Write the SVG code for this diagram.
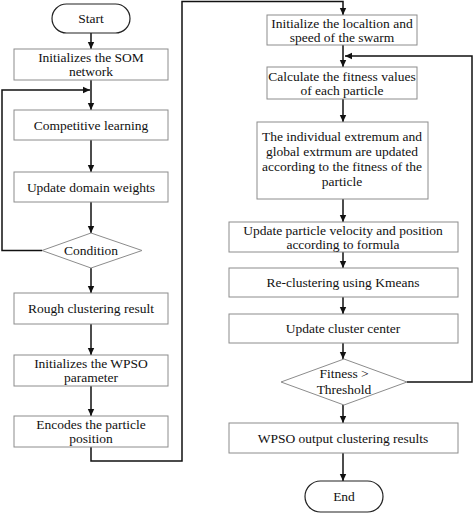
<svg xmlns="http://www.w3.org/2000/svg" width="474" height="514" viewBox="0 0 474 514">
<style>
.box{fill:#fff;stroke:#8c8c8c;stroke-width:1}
.term{fill:#fff;stroke:#222;stroke-width:1.2}
.t{font-family:'Liberation Serif','Times New Roman',Times,'DejaVu Serif',serif;font-size:13.5px;fill:#111;text-anchor:middle}
.c{fill:none;stroke:#111;stroke-width:1.5}
</style>
<defs>
<marker id="ah" markerWidth="8" markerHeight="8" refX="7" refY="4" orient="auto" markerUnits="userSpaceOnUse">
<path d="M0,0.8 L7,4 L0,7.2 Z" fill="#111"/>
</marker>
</defs>
<rect width="474" height="514" fill="#fff"/>
<g id="connectors">
<path class="c" d="M91,33 V49" marker-end="url(#ah)"/>
<path class="c" d="M91,80 V110" marker-end="url(#ah)"/>
<path class="c" d="M42,250.5 H2 V90 H90" marker-end="url(#ah)"/>
<path class="c" d="M91,140 V172" marker-end="url(#ah)"/>
<path class="c" d="M91,202 V233" marker-end="url(#ah)"/>
<path class="c" d="M91,268 V293" marker-end="url(#ah)"/>
<path class="c" d="M91,324 V355" marker-end="url(#ah)"/>
<path class="c" d="M91,386 V416" marker-end="url(#ah)"/>
<path class="c" d="M91,447 V461 H182 V1.5 H343 V15" marker-end="url(#ah)"/>
<path class="c" d="M343,45 V67" marker-end="url(#ah)"/>
<path class="c" d="M407,382 H472 V56 H345" marker-end="url(#ah)"/>
<path class="c" d="M343,99 V122" marker-end="url(#ah)"/>
<path class="c" d="M343,199 V222" marker-end="url(#ah)"/>
<path class="c" d="M343,252 V268" marker-end="url(#ah)"/>
<path class="c" d="M343,297 V314" marker-end="url(#ah)"/>
<path class="c" d="M343,343 V359" marker-end="url(#ah)"/>
<path class="c" d="M343,405 V423" marker-end="url(#ah)"/>
<path class="c" d="M343,453 V481" marker-end="url(#ah)"/>
</g>
<g id="start">
<rect class="term" x="52" y="4" width="78" height="29" rx="14.5"/>
<text class="t" x="91" y="23">Start</text>
</g>
<g id="init-som">
<rect class="box" x="14" y="49" width="154" height="31"/>
<text class="t" x="91" y="62">Initializes the SOM</text>
<text class="t" x="91" y="76">network</text>
</g>
<g id="competitive">
<rect class="box" x="14" y="110" width="154" height="30"/>
<text class="t" x="91" y="130">Competitive learning</text>
</g>
<g id="update-weights">
<rect class="box" x="14" y="172" width="154" height="30"/>
<text class="t" x="91" y="192">Update domain weights</text>
</g>
<g id="condition">
<polygon class="box" points="91,233 142,250.5 91,268 42,250.5"/>
<text class="t" x="91" y="255">Condition</text>
</g>
<g id="rough">
<rect class="box" x="14" y="293" width="154" height="31"/>
<text class="t" x="91" y="313">Rough clustering result</text>
</g>
<g id="init-wpso">
<rect class="box" x="14" y="355" width="154" height="31"/>
<text class="t" x="91" y="368">Initializes the WPSO</text>
<text class="t" x="91" y="382">parameter</text>
</g>
<g id="encode">
<rect class="box" x="14" y="416" width="154" height="31"/>
<text class="t" x="91" y="429">Encodes the particle</text>
<text class="t" x="91" y="443">position</text>
</g>
<g id="init-swarm">
<rect class="box" x="267" y="15" width="150" height="30"/>
<text class="t" x="342" y="28">Initialize the localtion and</text>
<text class="t" x="342" y="42">speed of the swarm</text>
</g>
<g id="calc-fitness">
<rect class="box" x="267" y="67" width="150" height="32"/>
<text class="t" x="342" y="81">Calculate the fitness values</text>
<text class="t" x="342" y="95">of each particle</text>
</g>
<g id="extremum">
<rect class="box" x="257" y="122" width="171" height="77"/>
<text class="t" x="342" y="141">The individual extremum and</text>
<text class="t" x="342" y="156">global extrmum are updated</text>
<text class="t" x="342" y="171">according to the fitness of the</text>
<text class="t" x="342" y="186">particle</text>
</g>
<g id="update-velocity">
<rect class="box" x="229" y="222" width="229" height="30"/>
<text class="t" x="343" y="235">Update particle velocity and position</text>
<text class="t" x="343" y="249">according to formula</text>
</g>
<g id="recluster">
<rect class="box" x="229" y="268" width="229" height="29"/>
<text class="t" x="343" y="287">Re-clustering using Kmeans</text>
</g>
<g id="update-center">
<rect class="box" x="229" y="314" width="229" height="29"/>
<text class="t" x="343" y="333">Update cluster center</text>
</g>
<g id="fitness-threshold">
<polygon class="box" points="344,359 407,382 344,405 281,382"/>
<text class="t" x="344" y="378">Fitness &gt;</text>
<text class="t" x="344" y="394">Threshold</text>
</g>
<g id="output">
<rect class="box" x="229" y="423" width="229" height="30"/>
<text class="t" x="343" y="443">WPSO output clustering results</text>
</g>
<g id="end">
<rect class="term" x="305" y="481" width="78" height="31" rx="15.5"/>
<text class="t" x="344" y="501">End</text>
</g>
</svg>
